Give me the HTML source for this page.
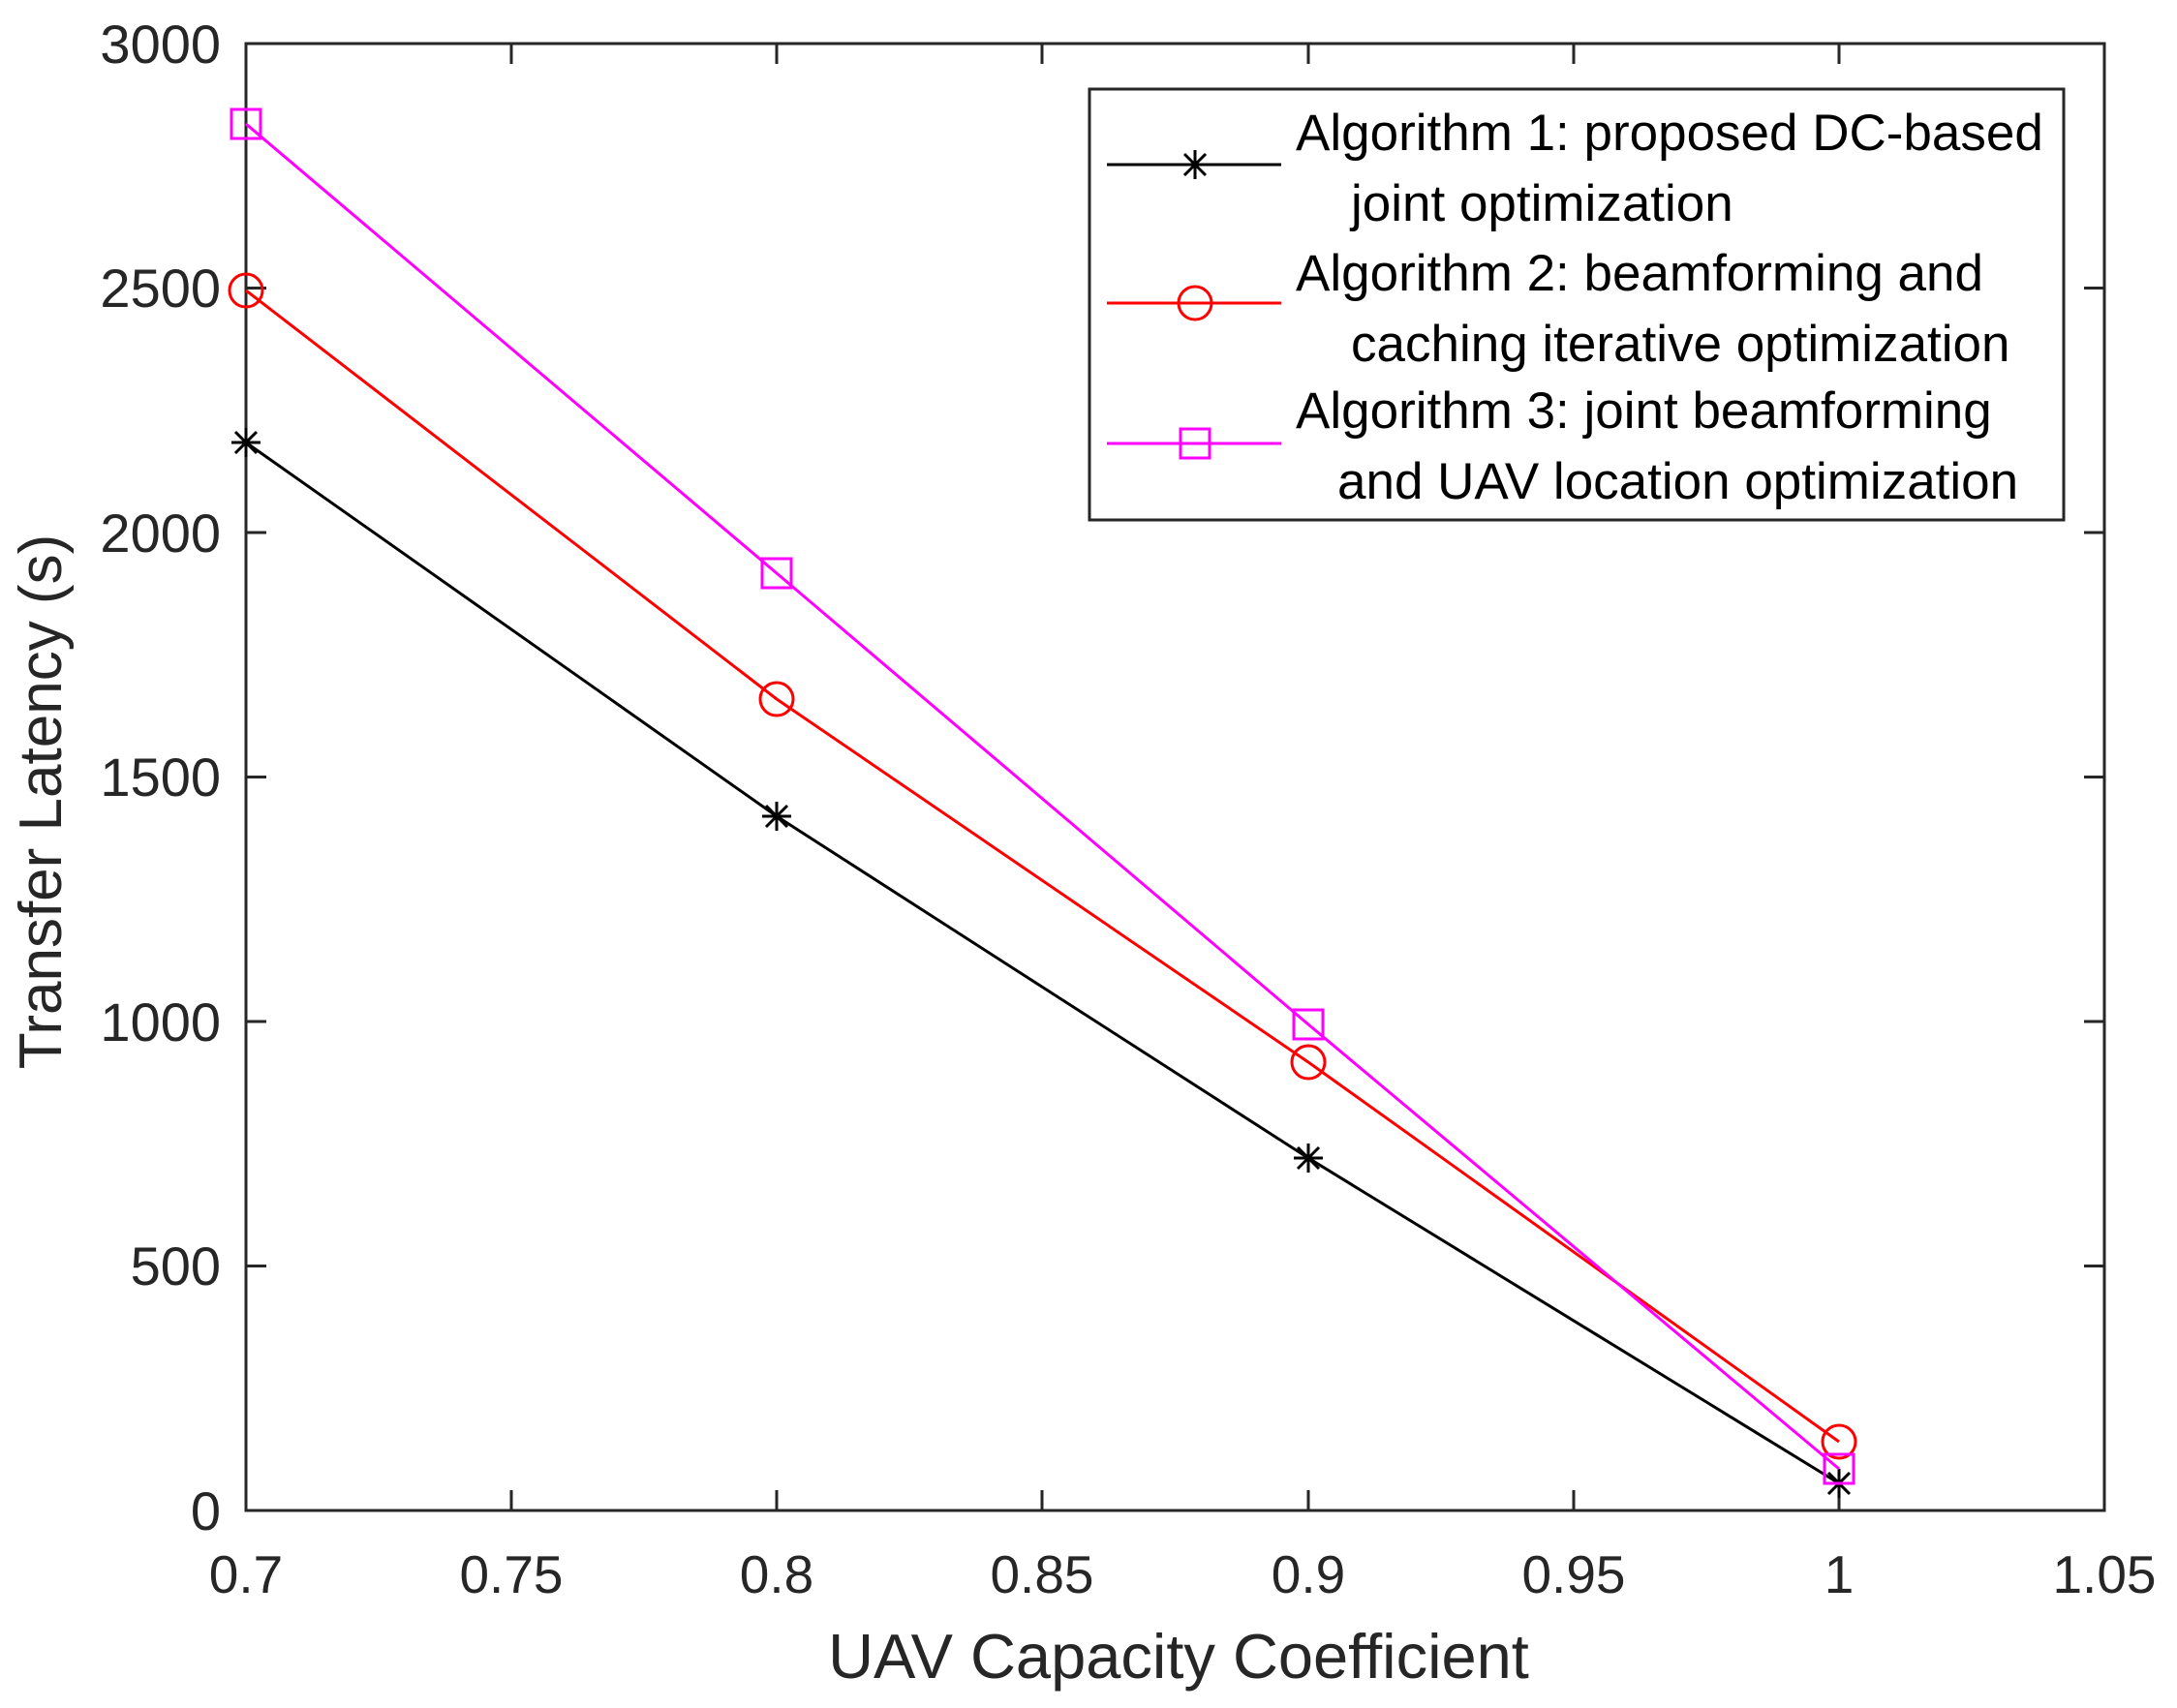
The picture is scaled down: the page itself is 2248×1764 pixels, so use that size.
<!DOCTYPE html>
<html><head><style>
html,body{margin:0;padding:0;background:#fff}
svg text{font-family:"Liberation Sans",Arial,sans-serif}
</style></head><body>
<svg width="2248" height="1759" viewBox="0 0 2248 1759" xmlns="http://www.w3.org/2000/svg">
<rect width="2248" height="1759" fill="#fff"/>
<g stroke="#262626" stroke-width="3" fill="none">
<rect x="254" y="45" width="1919" height="1515"/>
<path d="M528 1560v-21M802 1560v-21M1076 1560v-21M1351 1560v-21M1625 1560v-21M1899 1560v-21
M528 45v21M802 45v21M1076 45v21M1351 45v21M1625 45v21M1899 45v21
M254 1307.5h21M254 1055h21M254 802.5h21M254 550h21M254 297.5h21
M2173 1307.5h-21M2173 1055h-21M2173 802.5h-21M2173 550h-21M2173 297.5h-21"/>
</g>
<g fill="#262626" font-size="56" text-anchor="end">
<text x="228" y="1580">0</text>
<text x="228" y="1327">500</text>
<text x="228" y="1075">1000</text>
<text x="228" y="822">1500</text>
<text x="228" y="570">2000</text>
<text x="228" y="317">2500</text>
<text x="228" y="65">3000</text>
</g>
<g fill="#262626" font-size="55" text-anchor="middle">
<text x="254" y="1645">0.7</text>
<text x="528" y="1645">0.75</text>
<text x="802" y="1645">0.8</text>
<text x="1076" y="1645">0.85</text>
<text x="1351" y="1645">0.9</text>
<text x="1625" y="1645">0.95</text>
<text x="1899" y="1645">1</text>
<text x="2173" y="1645">1.05</text>
</g>
<text x="1217" y="1733" font-size="65" fill="#262626" text-anchor="middle">UAV Capacity Coefficient</text>
<text transform="translate(63,828) rotate(-90)" font-size="62" fill="#262626" text-anchor="middle">Transfer Latency (s)</text>
<polyline points="254,457 802,843 1351,1196 1899,1532" fill="none" stroke="#000" stroke-width="3"/>
<g stroke="#000" stroke-width="3">
<path d="M-15 0h30M0 -15v30M-11 -11l22 22M-11 11l22 -22" transform="translate(254,457)"/>
<path d="M-15 0h30M0 -15v30M-11 -11l22 22M-11 11l22 -22" transform="translate(802,843)"/>
<path d="M-15 0h30M0 -15v30M-11 -11l22 22M-11 11l22 -22" transform="translate(1351,1196)"/>
<path d="M-15 0h30M0 -15v30M-11 -11l22 22M-11 11l22 -22" transform="translate(1899,1532)"/>
</g>
<polyline points="254,300 802,722 1351,1097 1899,1489" fill="none" stroke="#f00" stroke-width="3"/>
<g stroke="#f00" stroke-width="3" fill="none">
<circle cx="254" cy="300" r="17"/><circle cx="802" cy="722" r="17"/><circle cx="1351" cy="1097" r="17"/><circle cx="1899" cy="1489" r="17"/>
</g>
<polyline points="254,128 802,592 1351,1058 1899,1517" fill="none" stroke="#f0f" stroke-width="3"/>
<g stroke="#f0f" stroke-width="3" fill="none">
<rect x="239" y="113" width="30" height="30"/><rect x="787" y="577" width="30" height="30"/><rect x="1336" y="1043" width="30" height="30"/><rect x="1884" y="1502" width="30" height="30"/>
</g>
<rect x="1125" y="92" width="1006" height="445" fill="#fff" stroke="#262626" stroke-width="3"/>
<line x1="1143" y1="170" x2="1323" y2="170" stroke="#000" stroke-width="3"/>
<path d="M-15 0h30M0 -15v30M-11 -11l22 22M-11 11l22 -22" transform="translate(1234,170)" stroke="#000" stroke-width="3"/>
<line x1="1143" y1="313" x2="1323" y2="313" stroke="#f00" stroke-width="3"/>
<circle cx="1234" cy="313" r="17" fill="none" stroke="#f00" stroke-width="3"/>
<line x1="1143" y1="458" x2="1323" y2="458" stroke="#f0f" stroke-width="3"/>
<rect x="1219" y="443" width="30" height="30" fill="none" stroke="#f0f" stroke-width="3"/>
<g font-size="53" fill="#000">
<text x="1338" y="155">Algorithm 1: proposed DC-based</text>
<text x="1395" y="228">joint optimization</text>
<text x="1338" y="300">Algorithm 2: beamforming and</text>
<text x="1395" y="373">caching iterative optimization</text>
<text x="1338" y="442">Algorithm 3: joint beamforming</text>
<text x="1381" y="515">and UAV location optimization</text>
</g>
</svg>
</body></html>
